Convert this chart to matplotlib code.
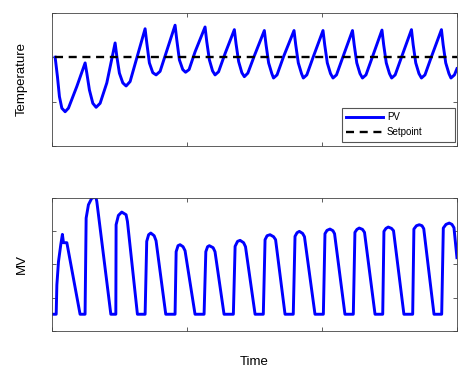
import matplotlib
matplotlib.use('Agg')
import matplotlib.pyplot as plt

plt.rcParams['font.family'] = ['Liberation Sans', 'DejaVu Sans']

# process variable (temperature)
t_pv = [2.22, 3.93, 5.41, 7.19, 9.63, 12.07, 18.30,
        24.44, 25.70, 27.63, 30.15, 32.59, 35.56, 40.52,
        46.67, 47.93, 49.85, 52.37, 54.81, 57.78,
        68.89, 70.15, 72.07, 74.59, 77.04, 80.0,
        91.11, 92.37, 94.30, 96.81, 98.89, 101.48, 105.93,
        113.33, 114.59, 116.52, 118.89, 120.74, 123.33, 128.15,
        135.04, 136.30, 138.22, 140.59, 142.44, 145.04, 149.85,
        157.26, 158.52, 160.44, 162.81, 164.07, 166.67, 171.48,
        179.26, 180.52, 182.44, 184.81, 186.15, 188.74, 193.56,
        200.74, 202.0, 203.93, 206.30, 208.15, 210.74, 215.56,
        222.59, 223.85, 225.78, 228.15, 230.0, 232.59, 237.41,
        244.44, 245.70, 247.63, 250.0, 251.63, 254.22, 259.04,
        266.30, 267.56, 269.48, 271.85, 273.70, 276.30, 281.11,
        288.52, 289.78, 291.70, 294.07, 295.56, 298.15, 300.0]
pv = [2.00, 1.56, 1.11, 0.85, 0.77, 0.85, 1.34,
      1.87, 1.64, 1.26, 0.96, 0.87, 0.96, 1.42,
      2.32, 2.02, 1.64, 1.42, 1.35, 1.45,
      2.64, 2.32, 1.87, 1.65, 1.60, 1.68,
      2.72, 2.39, 1.94, 1.72, 1.66, 1.72, 2.12,
      2.68, 2.35, 1.94, 1.69, 1.60, 1.67, 2.08,
      2.62, 2.30, 1.90, 1.65, 1.56, 1.64, 2.03,
      2.60, 2.28, 1.87, 1.63, 1.53, 1.60, 2.01,
      2.60, 2.28, 1.87, 1.63, 1.53, 1.60, 2.01,
      2.60, 2.28, 1.87, 1.63, 1.53, 1.60, 2.01,
      2.60, 2.28, 1.87, 1.63, 1.53, 1.60, 2.01,
      2.61, 2.28, 1.87, 1.63, 1.53, 1.60, 2.01,
      2.62, 2.28, 1.87, 1.63, 1.53, 1.60, 2.01,
      2.62, 2.28, 1.87, 1.63, 1.53, 1.60, 1.74]

t_sp = [2.22, 300.0]
sp = [2.0, 2.0]

# manipulated variable
t_mv = [0, 3.0, 3.5, 4.7, 6.4, 7.6, 8.4, 10.9, 20.7,
        24.4, 25.2, 26.9, 29.4, 32.4, 33.1, 43.5,
        47.2, 47.4, 49.1, 51.6, 54.8, 55.8, 63.2,
        68.9, 70.1, 71.5, 73.1, 75.6, 77.0, 84.2,
        91.1, 91.9, 93.3, 94.8, 97.0, 98.5, 105.9,
        112.6, 113.9, 115.2, 116.5, 119.3, 120.7, 127.4,
        134.3, 135.6, 137.4, 139.3, 141.9, 143.3, 150.4,
        156.5, 157.8, 159.3, 161.5, 164.1, 165.6, 172.6,
        178.7, 180.0, 181.5, 183.2, 185.6, 187.0, 194.8,
        201.0, 202.2, 203.7, 205.9, 208.1, 209.3, 217.0,
        223.2, 224.4, 225.9, 227.6, 230.0, 231.5, 239.3,
        245.0, 245.9, 247.4, 249.1, 251.5, 253.0, 260.7,
        267.2, 268.1, 270.0, 272.1, 274.1, 275.4, 283.0,
        288.7, 289.9, 291.9, 294.3, 296.3, 297.8, 300.0]
mv = [0.5, 0.5, 1.38, 2.08, 2.59, 2.90, 2.65, 2.65, 0.5,
      0.5, 3.39, 3.79, 3.99, 4.02, 3.89, 0.5,
      0.5, 3.19, 3.47, 3.57, 3.49, 3.29, 0.5,
      0.5, 2.69, 2.89, 2.94, 2.86, 2.71, 0.5,
      0.5, 2.38, 2.56, 2.59, 2.53, 2.41, 0.5,
      0.5, 2.38, 2.53, 2.56, 2.50, 2.38, 0.5,
      0.5, 2.54, 2.69, 2.72, 2.65, 2.53, 0.5,
      0.5, 2.74, 2.86, 2.89, 2.83, 2.74, 0.5,
      0.5, 2.84, 2.95, 2.99, 2.93, 2.83, 0.5,
      0.5, 2.92, 3.02, 3.06, 3.01, 2.92, 0.5,
      0.5, 2.96, 3.05, 3.09, 3.05, 2.96, 0.5,
      0.5, 2.99, 3.08, 3.12, 3.08, 3.01, 0.5,
      0.5, 3.06, 3.16, 3.19, 3.16, 3.07, 0.5,
      0.5, 3.09, 3.20, 3.24, 3.20, 3.10, 2.2]

fig = plt.figure(figsize=(4.74, 3.76), dpi=100)
ax1 = fig.add_axes([0.110, 0.612, 0.854, 0.354])
ax2 = fig.add_axes([0.110, 0.120, 0.854, 0.354])

ax1.plot(t_pv, pv, color='#0000ff', lw=2.1, solid_joinstyle='round', label='PV')
ax1.plot(t_sp, sp, color='black', lw=1.7, dashes=(3.4, 2.4), label='Setpoint')
ax2.plot(t_mv, mv, color='#0000ff', lw=2.1, solid_joinstyle='round')

ax1.set_ylim(0, 3)
ax1.set_yticks([0, 1, 2, 3])
ax2.set_ylim(0, 4)
ax2.set_yticks([0, 1, 2, 3, 4])

for ax in (ax1, ax2):
    ax.set_xlim(0, 300)
    ax.set_xticks([0, 100, 200, 300])
    ax.tick_params(direction='in', top=True, right=True, length=3,
                   width=0.6, color='#444444',
                   labelleft=False, labelbottom=False)
    for s in ax.spines.values():
        s.set_linewidth(0.6)
        s.set_color('#444444')

ax1.set_ylabel('Temperature', fontsize=9.5)
ax1.yaxis.set_label_coords(-0.06, 0.5)
ax2.set_ylabel('MV', fontsize=9.5)
ax2.yaxis.set_label_coords(-0.06, 0.5)
ax2.set_xlabel('Time', fontsize=9.5)
ax2.xaxis.set_label_coords(0.5, -0.19)

leg = ax1.legend(loc='lower left', bbox_to_anchor=(0.715, 0.032, 0.28, 0.263),
                 mode='expand', borderaxespad=0, fontsize=7, fancybox=False,
                 handlelength=3.8, handletextpad=0.4, labelspacing=0.5,
                 borderpad=0.45, framealpha=1)
leg.get_frame().set_edgecolor('#555555')
leg.get_frame().set_linewidth(0.8)

fig.savefig('out.png', dpi=100)
